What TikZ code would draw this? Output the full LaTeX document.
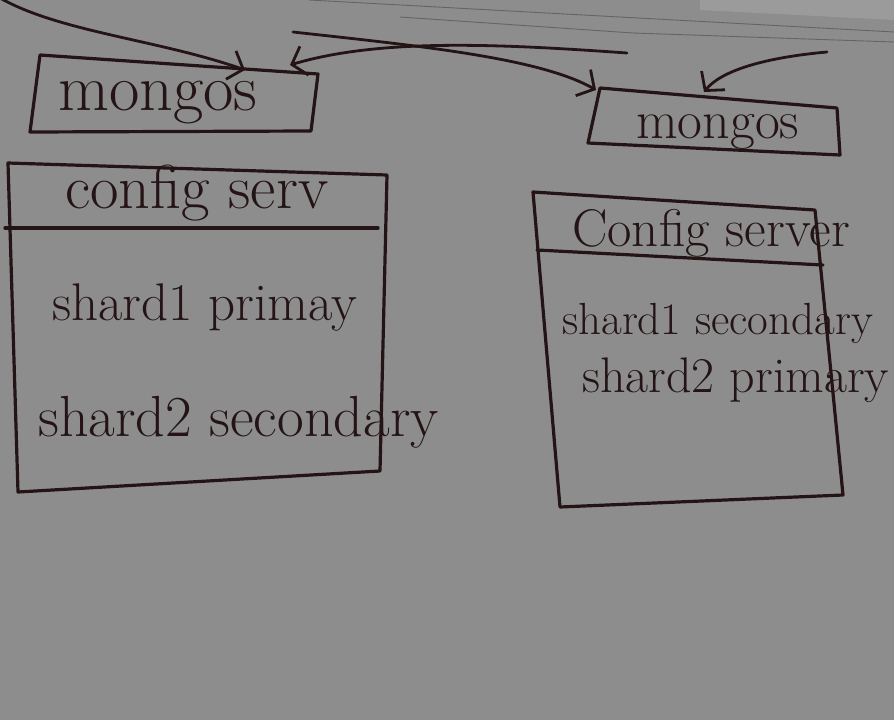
\documentclass[tikz,border=0pt]{standalone}
\usepackage{tikz}
\usetikzlibrary{arrows.meta}
\definecolor{paper}{RGB}{141,141,141}
\definecolor{ink}{RGB}{36,20,22}
\tikzset{
	pen/.style={draw=ink, line width=3.2pt, line cap=round, line join=round},
	pointer/.style={pen, line width=2.8pt, -{Straight Barb[length=13pt, width=30pt, line width=2.8pt]}},
	hand/.style={text=ink, inner sep=0pt, anchor=base west, font=\fontsize{50}{54}\selectfont},
	ruled/.style={draw=ink!35!paper, line width=0.9pt},
}
\begin{document}
\begin{tikzpicture}[x=1pt, y=-1pt]
		%%%%% START %%%%%
		
		\fill[paper] (0, 0) rectangle (894, 720);
		\useasboundingbox (0, 0) rectangle (894, 720);
		\fill[paper!88!white] (700, 0) -- (894, 0) -- (894, 20) -- (700, 10) -- cycle;
		
		\draw[ruled] (309, 0) -- (894, 32);
		\draw[ruled] (400, 17) -- (633, 33) -- (894, 42);
		
		% mongos boxes
		\draw[pen] (40, 55) -- (318, 74) -- (311, 131) -- (30, 132) -- cycle;
		\node[hand, font=\fontsize{66}{70}\selectfont] (mongosL) at (58, 110) {mongos};
		
		\draw[pen] (600, 88) -- (837, 108) -- (840, 155) -- (588, 143) -- cycle;
		\node[hand, font=\fontsize{54}{58}\selectfont] (mongosR) at (636, 138) {mongos};
		
		% left machine
		\draw[pen] (8, 163) -- (387, 175) -- (380, 471) -- (18, 492) -- cycle;
		\draw[pen] (5, 228) -- (378, 228);
		\node[hand, font=\fontsize{62}{66}\selectfont] (cfgL) at (65, 208) {config serv};
		\node[hand, font=\fontsize{53}{57}\selectfont] (sh1L) at (52, 320) {shard1 primay};
		\node[hand, font=\fontsize{58}{62}\selectfont] (sh2L) at (38, 436) {shard2 secondary};
		
		% right machine
		\draw[pen] (533, 192) -- (815, 210) -- (843, 495) -- (560, 507) -- cycle;
		\draw[pen] (537, 250) -- (823, 265);
		\node[hand, font=\fontsize{53}{57}\selectfont] (cfgR) at (572, 246) {Config server};
		\node[hand, font=\fontsize{45}{49}\selectfont] (sh1R) at (562, 334) {shard1 secondary};
		\node[hand] (sh2R) at (582, 392) {shard2 primary};
		
		% arrows
		\coordinate (inL1) at (245, 70);
		\coordinate (inL2) at (290, 65);
		\coordinate (inR1) at (596, 90);
		\coordinate (inR2) at (704, 92);
		\coordinate (tailA) at (0, -2);
		\coordinate (tailB) at (293, 32);
		\coordinate (tailC) at (627, 53);
		\coordinate (tailD) at (827, 52);
		
		\draw[pointer] (tailA) .. controls (60, 32) and (160, 40) .. (inL1);
		\draw[pointer] (tailB) .. controls (420, 46) and (540, 58) .. (inR1);
		\draw[pointer] (tailC) .. controls (500, 44) and (380, 38) .. (inL2);
		\draw[pointer] (tailD) .. controls (760, 58) and (720, 72) .. (inR2);
		
		%%%%% END %%%%%
\end{tikzpicture}
\end{document}
